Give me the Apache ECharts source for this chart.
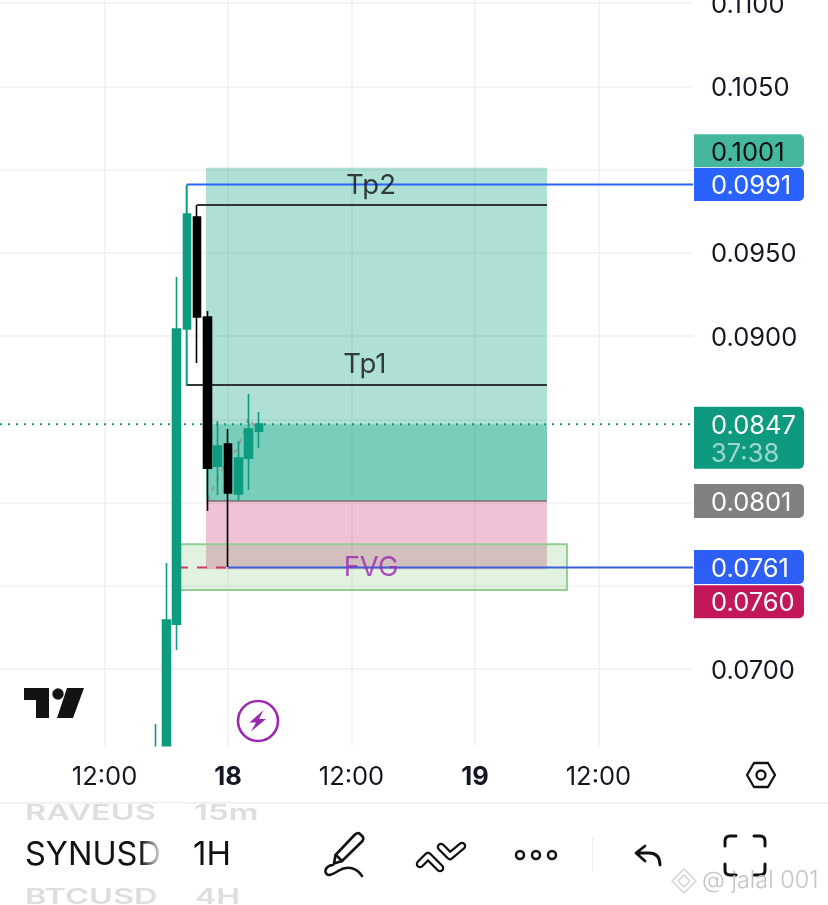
<!DOCTYPE html>
<html><head><meta charset="utf-8">
<style>html,body{margin:0;padding:0;background:#fff}#c{width:828px;height:905px}</style>
<script src="https://cdn.jsdelivr.net/npm/echarts@6/dist/echarts.min.js"></script>
</head><body><div id="c"></div>
<script>
// Hours relative to the start of day 18
const tickHours=[-12,0,12,24,36];
const tickLabels=['12:00','18','12:00','19','12:00'];
const priceTicks=[0.07,0.075,0.08,0.085,0.09,0.095,0.10,0.105,0.11];
const priceLabels=['0.0700','','','','0.0900','0.0950','','0.1050','0.1100'];
// [hour, open, close, low, high]
const candles=[
 [-7,0.0640,0.0650,0.0630,0.06670],
 [-6,0.0650,0.07294,0.0640,0.07637],
 [-5,0.07270,0.09042,0.07114,0.09354],
 [-4,0.09042,0.09733,0.08700,0.09907],
 [-3,0.09715,0.09114,0.08838,0.09787],
 [-2,0.09114,0.08207,0.07949,0.09150],
 [-1,0.08219,0.08339,0.08045,0.08489],
 [0,0.08351,0.08057,0.07613,0.08441],
 [1,0.08051,0.08267,0.08009,0.08369],
 [2,0.08267,0.08441,0.08075,0.08652],
 [3,0.08429,0.08471,0.08327,0.08544]
];
const tradePath=[[-2,0.0801],[-1,0.0815],[0,0.0826],[1,0.0833],[2,0.0851],[3,0.0842]];
const entry=0.0847, stop=0.0801, target=0.1001, low=0.0760;
const swingHigh=0.0991, swingLow=0.0761;
const tp1=0.08706, tp2=0.09787;
const fvgTop=0.0775, fvgBottom=0.07475;
const zoneHours=[-2.14,31];
const fvgHours=[-4.86,32.94];
const notes=[{name:'Tp2',value:[13.9,0.0990]},{name:'Tp1',value:[13.3,0.0883]},{name:'FVG',value:[13.9,0.0761],label:{color:'#9c27b0'}}];
const tagPrices=[0.1001,0.0991,0.0847,0.0801,0.0761,0.0760];
const tagTexts=['0.1001','0.0991','0.0847','0.0801','0.0761','0.0760'];
const countdown='37:38';

const xMin=-22.157,xMax=45.19,yMin=0.06538,yMax=0.11018;
const FONT='Inter';
const AXIS_SIZE=25.5;
const GREEN='#0e9c80',BLACK='#000',BLUE='#2962ff',GRID='#f1f1f1';
const tagLook=[
 {bg:'#45b79f',fg:'#111',top:-33.5,h:33},
 {bg:'#2962ff',fg:'#fff',top:-16.5,h:33},
 {bg:'#0e9a7e',fg:'#fff',top:-17.5,h:62,sub:true},
 {bg:'#808080',fg:'#fff',top:-17,h:34},
 {bg:'#2d5ff5',fg:'#fff',top:-17.5,h:34},
 {bg:'#c2185b',fg:'#fff',top:16,h:33}
];
function lineSeries(data,color,width,type,z){
 return {type:'line',data:data,symbol:'none',silent:true,z:z||4,animation:false,
  lineStyle:{color:color,width:width,type:type||'solid'}};
}
function zone(x0,x1,y0,y1,color,border,bw){
 return [{xAxis:x0,yAxis:y0,itemStyle:{color:color,opacity:1,borderColor:border||'transparent',borderWidth:bw||0}},{xAxis:x1,yAxis:y1}];
}
function stroke(d,w,c){return {type:'path',shape:{pathData:d},style:{fill:'none',stroke:c||'#111',lineWidth:w||2.6,lineCap:'round',lineJoin:'round'}};}
function fill(d,c){return {type:'path',shape:{pathData:d},style:{fill:c}};}
function ring(cx,cy,r,w,c,bg){return {type:'circle',shape:{cx:cx,cy:cy,r:r},style:{fill:bg||'none',stroke:c,lineWidth:w}};}
function box(x,y,w,h,f){return {type:'rect',shape:{x:x,y:y,width:w,height:h},style:{fill:f}};}
function txt(s,x,y,size,color,weight){return {type:'text',style:{x:x,y:y,text:s,fill:color,font:(weight||400)+' '+size+'px '+FONT,verticalAlign:'middle',align:'left'}};}
// Picker rows above and below the selected one look squashed by the wheel
function ghost(s,x,y,size){return {type:'text',x:x,y:y,scaleY:0.66,style:{x:0,y:0,text:s,fill:'#dedede',font:'600 '+size+'px '+FONT,verticalAlign:'middle',align:'left'}};}
function chrome(){
 return [
  box(140,746.5,32,40,'#fff'),
  box(0,802,828,1.5,'#eeeeee'),
  fill('M24 688H49V718H36V700H24Z','#131313'),
  {type:'circle',shape:{cx:58,cy:694,r:5.7},style:{fill:'#131313'}},
  fill('M67 688H84L73 718H57Z','#131313'),
  ring(258,721,20,2.6,'#9c27b0','#fff'),
  fill('M263.5 710L249.5 722.5H256L251 731.5L266 719H259Z','#9c27b0'),
  stroke('M747 775L754 763H768L775 775L768 787H754Z',2.3),
  ring(761,775,4.5,2.3,'#111'),
  ghost('RAVEUSD',25,813.5,32.5),ghost('15m',194,813.5,33),
  box(158,803,25,20,'#fff'),
  txt('SYNUSD',25,855,32.5,'#111',400),txt('1H',193,855,33,'#111',400),
  {type:'rect',shape:{x:140,y:835,width:24,height:40},
   style:{fill:{type:'linear',x:0,y:0,x2:1,y2:0,colorStops:[{offset:0,color:'rgba(255,255,255,0)'},{offset:1,color:'#fff'}]}}},
  ghost('BTCUSD',25,898,32.5),ghost('4H',195,898,32),
  box(158,885,25,20,'#fff'),
  stroke('M355 834.5Q358 832 360 834L363 837Q364 839 362.5 841L342 861L334 863.5L335.5 855Z',2.6),
  stroke('M336 855L342 861',2.6),
  stroke('M362 876C357 868 348 865 338 871C332 875 327 877 325.5 872C325 868 329 865 333 865',2.6),
  stroke('M420 864L428 856L440 868',8.5,'#111'),
  stroke('M420 864L428 856L440 868',4,'#fff'),
  stroke('M441 847L450 856L462 846',8.5,'#111'),
  stroke('M441 847L450 856L462 846',4,'#fff'),
  ring(520,855,4,2.5,'#111'),ring(536,855,4,2.5,'#111'),ring(552,855,4,2.5,'#111'),
  box(592,838,1,34,'#ececec'),
  stroke('M660 865C660 857 656 853 649 853H637M645 846L636 853L645 861',2.8),
  stroke('M725 846V841Q725 836 730 836H736M754 836H760Q765 836 765 841V846M765 864V870Q765 875 760 875H754M736 875H730Q725 875 725 870V864',3),
  stroke('M684 869L696 881L684 893L672 881ZM684 875L690 881L684 887L678 881Z',1.6,'#d4d4d4'),
  txt('@ jalal 001',702,881,23.5,'#c4c4c4',300)
 ];
}
const option={
 animation:false,backgroundColor:'#fff',
 grid:{left:0,right:135,top:0,bottom:159,containLabel:false,outerBoundsMode:'none'},
 xAxis:{type:'value',min:xMin,max:xMax,
  axisLine:{show:false},axisTick:{show:false,customValues:tickHours},
  splitLine:{show:true,lineStyle:{color:GRID,width:1.5}},
  axisLabel:{customValues:tickHours,margin:18,color:'#131722',fontFamily:FONT,fontSize:AXIS_SIZE,
   formatter:v=>{const s=tickLabels[tickHours.indexOf(v)];return s.length===2?'{b|'+s+'}':s;},
   rich:{b:{fontWeight:700,fontSize:AXIS_SIZE,fontFamily:FONT,color:'#131722'}}}},
 yAxis:{type:'value',position:'right',min:yMin,max:yMax,scale:true,
  axisLine:{show:false},axisTick:{show:false,customValues:priceTicks},
  splitLine:{show:true,lineStyle:{color:GRID,width:1.5}},
  axisLabel:{customValues:priceTicks,margin:18,color:'#131722',fontFamily:FONT,fontSize:AXIS_SIZE,align:'left',
   formatter:v=>{const s=priceLabels[priceTicks.indexOf(v)];return s?'{p|'+s+'}':'';},
   rich:{p:{padding:[4,0,0,0],fontFamily:FONT,fontSize:AXIS_SIZE,color:'#131722'}}}},
 series:[
  {type:'line',data:[],z:1,silent:true,markArea:{silent:true,data:[
    zone(zoneHours[0],zoneHours[1],entry,target,'rgba(8,160,130,0.33)'),
    zone(zoneHours[0],zoneHours[1],stop,entry,'rgba(8,165,130,0.54)'),
    zone(zoneHours[0],zoneHours[1],low,stop,'rgba(194,24,91,0.26)'),
    zone(fvgHours[0],fvgHours[1],fvgBottom,fvgTop,'rgba(76,175,80,0.17)','#93cf95',2)
  ]}},
  lineSeries([[tradePath[0][0],stop],[zoneHours[1],stop]],'#7d7d7d',1.6),
  lineSeries(tradePath,'#9a8f97',1.5,[5,6],2),
  lineSeries([[xMin,entry],[xMax,entry]],GREEN,2,[2,6]),
  lineSeries([[-4,swingHigh],[-4,tp1]],GREEN,1.5,'solid',2),
  lineSeries([[-4,swingHigh],[xMax,swingHigh]],BLUE,2),
  lineSeries([[-3,tp2],[zoneHours[1],tp2]],'#333',2.2),
  lineSeries([[-4,tp1],[zoneHours[1],tp1]],'#333',2.2),
  lineSeries([[fvgHours[0],swingLow],[0,swingLow]],'#d1376e',2,[10,9]),
  lineSeries([[0,swingLow],[xMax,swingLow]],'#3a5fd6',2),
  {type:'candlestick',z:6,barWidth:8,silent:true,encode:{x:0,y:[1,2,3,4]},data:candles,
   itemStyle:{color:GREEN,color0:BLACK,borderColor:GREEN,borderColor0:BLACK,borderWidth:1.6}},
  {type:'scatter',z:7,symbolSize:0,silent:true,data:notes,
   label:{show:true,position:'inside',formatter:p=>p.name,fontFamily:FONT,fontSize:27.5,color:'#111'}},
  {type:'custom',z:8,silent:true,clip:false,encode:{x:0,y:1},
   data:tagPrices.map((p,i)=>[xMax,p,i]),
   renderItem:(params,api)=>{
    const i=api.value(2),pt=api.coord([api.value(0),api.value(1)]),L=tagLook[i];
    const x=pt[0]+1,y=pt[1]+L.top;
    const kids=[
     {type:'rect',shape:{x:x,y:y,width:110,height:L.h,r:[0,5,5,0]},style:{fill:L.bg}},
     {type:'text',style:{x:x+17,y:y+(L.sub?19.5:L.h/2+2),text:tagTexts[i],fill:L.fg,font:AXIS_SIZE+'px '+FONT,verticalAlign:'middle',align:'left'}}
    ];
    if(L.sub)kids.push({type:'text',style:{x:x+17,y:y+47.5,text:countdown,fill:'rgba(255,255,255,0.6)',font:AXIS_SIZE+'px '+FONT,verticalAlign:'middle',align:'left'}});
    return {type:'group',children:kids};
   }},
  {type:'custom',z:20,silent:true,clip:false,encode:{x:0,y:1},data:[[0,0.08]],
   renderItem:()=>({type:'group',children:chrome()})}
 ]
};
const chart=echarts.init(document.getElementById('c'),null,{renderer:'canvas'});
chart.setOption(option);
</script></body></html>
